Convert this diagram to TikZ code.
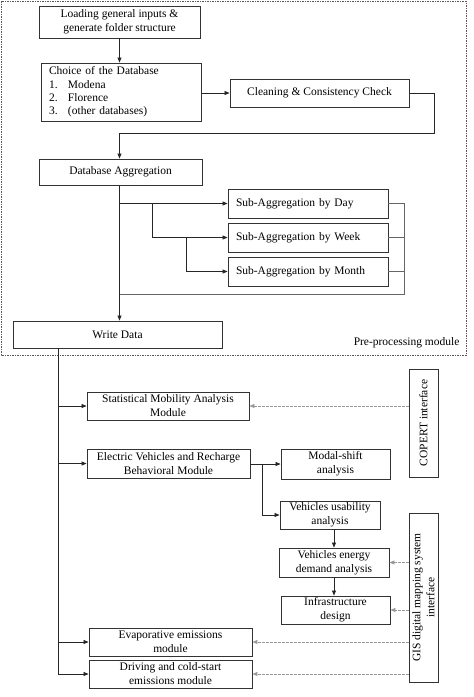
\documentclass[tikz,border=0pt]{standalone}
\usepackage{fontspec}
\setmainfont{Liberation Serif}
\usetikzlibrary{arrows.meta}
\definecolor{boxc}{HTML}{333333}
\begin{document}
\begin{tikzpicture}[x=1pt,y=-1pt,
 box/.style={draw=boxc, line width=0.9pt, inner sep=0pt, align=center, font=\fontsize{11.5}{14}\selectfont},
 ln/.style={draw=black!85, line width=0.7pt},
 arr/.style={ln, -{Triangle[length=5pt,width=4pt]}},
 garr/.style={draw=gray!80, line width=0.7pt, dash pattern=on 2.5pt off 1.5pt, -{Triangle[length=5pt,width=4pt]}},
 ret/.style={draw=black!60, line width=0.6pt}]
\useasboundingbox (0,0) rectangle (474,697);
\draw[draw=black!65, line width=0.9pt, dash pattern=on 1.5pt off 1pt] (1,1) rectangle (466,355);
\node[anchor=east, font=\fontsize{11.5}{14}\selectfont] (pre) at (463,343) {Pre-processing module};

% pre-processing boxes
\node[box, minimum width=161pt, minimum height=32pt] (load) at (119.5,22) {Loading general inputs \&\\generate folder structure};
\node[box, minimum width=160pt, minimum height=58pt, align=left, text width=144pt, inner xsep=8pt, font=\fontsize{11.5}{13.3}\selectfont] (choice) at (121,92) {Choice of the Database\\\makebox[19pt][l]{1.}Modena\\\makebox[19pt][l]{2.}Florence\\\makebox[19pt][l]{3.}(other databases)};
\node[box, minimum width=179pt, minimum height=28pt] (clean) at (319.5,93) {Cleaning \& Consistency Check};
\node[box, minimum width=163pt, minimum height=26pt] (agg) at (120.5,172) {Database Aggregation};
\node[box, minimum width=160pt, minimum height=29pt, text width=144pt, inner xsep=8pt, align=left] (day) at (308,203.5) {Sub-Aggregation by Day};
\node[box, minimum width=160pt, minimum height=29pt, text width=144pt, inner xsep=8pt, align=left] (week) at (308,237.5) {Sub-Aggregation by Week};
\node[box, minimum width=160pt, minimum height=29pt, text width=144pt, inner xsep=8pt, align=left] (month) at (308,271.5) {Sub-Aggregation by Month};
\node[box, minimum width=209pt, minimum height=27pt] (write) at (117.5,334.5) {Write Data};

% modules
\node[box, minimum width=162pt, minimum height=28pt] (stat) at (168,406) {Statistical Mobility Analysis\\Module};
\node[box, minimum width=163pt, minimum height=29pt] (ev) at (168.5,463.5) {Electric Vehicles and Recharge\\Behavioral Module};
\node[box, minimum width=109pt, minimum height=30pt] (modal) at (335.5,464) {Modal-shift\\analysis};
\node[box, minimum width=100pt, minimum height=28pt] (usab) at (330,515) {Vehicles usability\\analysis};
\node[box, minimum width=110pt, minimum height=29pt] (energy) at (334,562.5) {Vehicles energy\\demand analysis};
\node[box, minimum width=109pt, minimum height=28pt] (infra) at (335.5,610) {Infrastructure\\design};
\node[box, minimum width=163pt, minimum height=28pt] (evap) at (170.5,642) {Evaporative emissions\\module};
\node[box, minimum width=163pt, minimum height=28pt] (drive) at (170.5,674) {Driving and cold-start\\emissions module};
\node[box, rotate=90, minimum width=108pt, minimum height=29pt] (copert) at (423.5,423) {COPERT interface};
\node[box, rotate=90, minimum width=169pt, minimum height=29pt] (gis) at (423.5,597.5) {GIS digital mapping system\\interface};

% pre-processing connectors
\draw[arr] (load.south) -- (load.south |- choice.north);
\draw[arr] (choice.east |- clean.west) -- (clean.west);
\coordinate (c1) at (434,133);
\coordinate (c2) at (119.5,133);
\draw[arr] (clean.east) -| (c1) -- (c2) -- (agg.north -| c2);
\draw[arr] (agg.south -| c2) -- (write.north -| c2);
\coordinate (b1) at (119.5,203.5);
\coordinate (b2) at (152,203.5);
\coordinate (b3) at (186,237.5);
\draw[arr] (b1) -- (day.west);
\draw[arr] (b2) |- (week.west);
\draw[arr] (b3) |- (month.west);
\coordinate (r1) at (404,203.5);
\coordinate (r2) at (404,294);
\draw[ret] (day.east) -- (r1) -- (r2) -- (r2 -| c2);
\draw[ret] (week.east) -- (week.east -| r1);
\draw[ret] (month.east) -- (month.east -| r1);

% module connectors
\coordinate (m0) at (58,348);
\draw[arr] (m0) |- (drive.west);
\draw[arr] (stat.west -| m0) -- (stat.west);
\draw[arr] (ev.west -| m0) -- (ev.west);
\draw[arr] (evap.west -| m0) -- (evap.west);
\draw[arr] (ev.east |- modal.west) -- (modal.west);
\coordinate (e1) at (262,464);
\draw[arr] (e1) |- (usab.west);
\draw[arr] (energy.north |- usab.south) -- (energy.north);
\draw[arr] (energy.south) -- (energy.south |- infra.north);

% interface connectors
\draw[garr] (stat.east -| copert.north) -- (stat.east);
\draw[garr] (energy.east -| gis.north) -- (energy.east);
\draw[garr] (infra.east -| gis.north) -- (infra.east);
\draw[garr] (evap.east -| gis.north) -- (evap.east);
\draw[garr] (drive.east -| gis.north) -- (drive.east);
\end{tikzpicture}
\end{document}
